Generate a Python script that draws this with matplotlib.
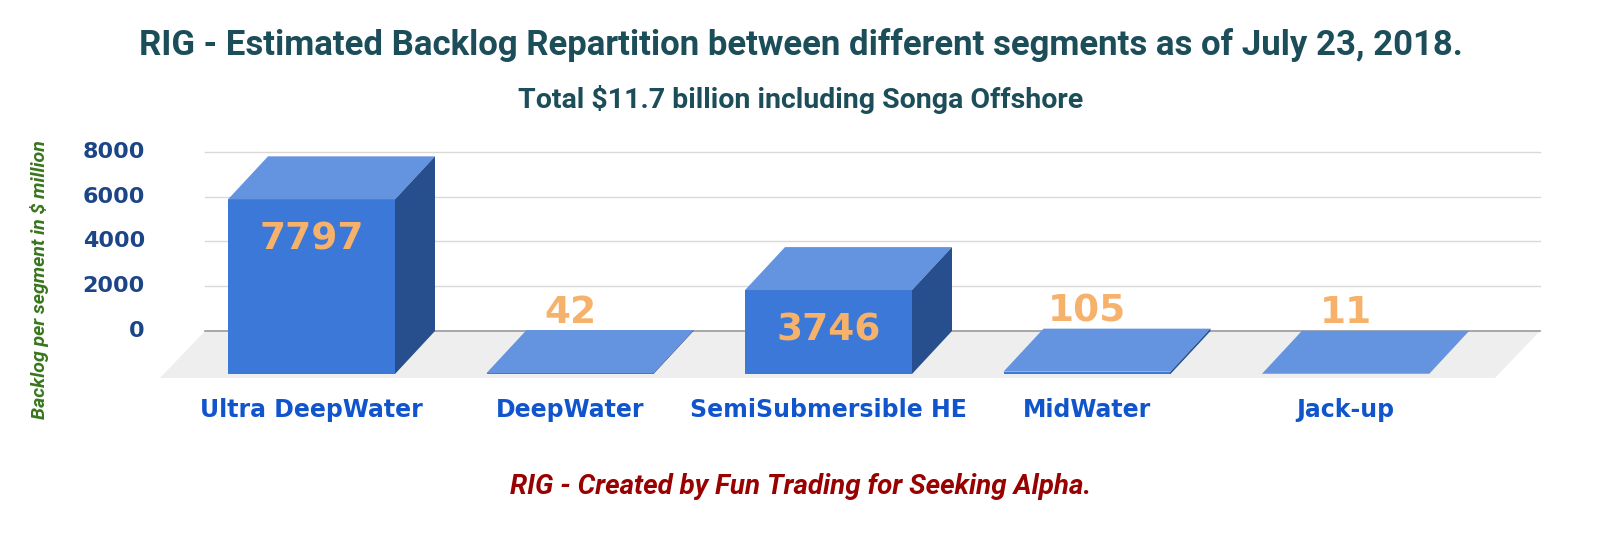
import matplotlib
matplotlib.use("Agg")
import matplotlib.pyplot as plt
from matplotlib.patches import Polygon

categories = ["Ultra DeepWater", "DeepWater", "SemiSubmersible HE", "MidWater", "Jack-up"]
values = [7797, 42, 3746, 105, 11]
yticks = [0, 2000, 4000, 6000, 8000]

PXX = 258.5          # pixels per category unit
PXY = 22.4 / 1000    # pixels per value unit
X0, Y0 = 311.5, 331
W, H = 1602, 543

fig = plt.figure(figsize=(16.02, 5.43), dpi=100)
ax = fig.add_axes([0, 0, 1, 1])
ax.set_xlim(-X0 / PXX, (W - X0) / PXX)
ax.set_ylim(-(H - Y0) / PXY, Y0 / PXY)
ax.axis("off")

dx, dy = 40 / PXX, -43 / PXY   # front offset from back plane
bw = 167 / PXX
gl, gr = (205 - X0) / PXX, (1540 - X0) / PXX

# floor
fdy = -47 / PXY
ax.add_patch(Polygon([(gl, 0), (gr, 0), (gr - 45 / PXX, fdy), (gl - 45 / PXX, fdy)],
                     closed=True, fc="#eeeeee", ec="none", zorder=1))
for t in yticks:
    ax.plot([gl, gr], [t, t], color="#999999" if t == 0 else "#d9d9d9", lw=1.2 if t == 0 else 1, zorder=2)
    ax.text((145 - X0) / PXX, t, str(t), ha="right", va="center", fontsize=16,
            fontweight="heavy", color="#1c4587", zorder=5)

for i, (c, v) in enumerate(zip(categories, values)):
    xl, xr = i - bw / 2, i + bw / 2
    b, tp = dy, dy + v
    ax.add_patch(Polygon([(xl, b), (xr, b), (xr, tp), (xl, tp)], fc="#3c78d8", ec="none", zorder=3))
    ax.add_patch(Polygon([(xl, tp), (xr, tp), (xr + dx, tp - dy), (xl + dx, tp - dy)],
                         fc="#6494e0", ec="none", zorder=3))
    ax.add_patch(Polygon([(xr, b), (xr + dx, b - dy), (xr + dx, tp - dy), (xr, tp)],
                         fc="#274e8d", ec="none", zorder=3))
    ly = tp - 1800 if v > 1000 else tp + 2700
    ax.text(i, ly, str(v), ha="center", va="center", fontsize=27, fontweight="heavy",
            color="#f6b26b", zorder=6)
    ax.text(i, -(410 - Y0) / PXY, c, ha="center", va="center", fontsize=17,
            fontweight="heavy", color="#1155cc", zorder=6)

fig.text(0.5, 1 - 45 / H, "RIG - Estimated Backlog Repartition between different segments as of July 23, 2018.",
         ha="center", va="center", fontsize=25, fontweight="bold", color="#1c4e5a", family="Roboto")
fig.text(0.5, 1 - 100 / H, "Total $11.7 billion including Songa Offshore",
         ha="center", va="center", fontsize=20.5, fontweight="bold", color="#1c4e5a", family="Roboto")
fig.text(0.5, 1 - 487 / H, "RIG - Created by Fun Trading for Seeking Alpha.",
         ha="center", va="center", fontsize=20, fontweight="bold", style="italic",
         color="#990000", family="Roboto")
fig.text(40 / W, 1 - 280 / H, "Backlog per segment in $ million", rotation=90,
         ha="center", va="center", fontsize=14, fontweight="bold", style="italic",
         color="#38761d", family="Roboto")

fig.savefig("out.png", dpi=100)
